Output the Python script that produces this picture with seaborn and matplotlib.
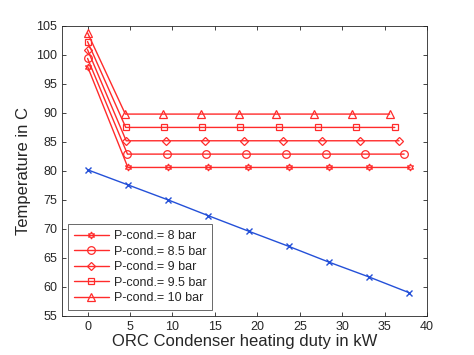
# ORC condenser: condensing temperature vs heating duty for several condenser pressures
import numpy as np
import pandas as pd
import seaborn as sns
import matplotlib
matplotlib.use('Agg')
import matplotlib.pyplot as plt

# Values
labels = ['P-cond.= 8 bar', 'P-cond.= 8.5 bar', 'P-cond.= 9 bar', 'P-cond.= 9.5 bar', 'P-cond.= 10 bar']
duty_8 = [0, 4.75, 9.5, 14.2, 18.9, 23.7, 28.5, 33.2, 38.0]
duty_85 = [0, 4.7, 9.4, 14.0, 18.7, 23.4, 28.1, 32.7, 37.3]
duty_9 = [0, 4.55, 9.2, 13.8, 18.4, 23.0, 27.6, 32.1, 36.7]
duty_95 = [0, 4.5, 9.0, 13.5, 18.0, 22.6, 27.1, 31.6, 36.2]
duty_10 = [0, 4.45, 8.9, 13.4, 17.8, 22.2, 26.7, 31.1, 35.6]
temp_8 = [98.0, 80.6, 80.6, 80.6, 80.6, 80.6, 80.6, 80.6, 80.6]
temp_85 = [99.4, 82.9, 82.9, 82.9, 82.9, 82.9, 82.9, 82.9, 82.9]
temp_9 = [100.9, 85.2, 85.2, 85.2, 85.2, 85.2, 85.2, 85.2, 85.2]
temp_95 = [102.3, 87.5, 87.5, 87.5, 87.5, 87.5, 87.5, 87.5, 87.5]
temp_10 = [103.8, 89.8, 89.8, 89.8, 89.8, 89.8, 89.8, 89.8, 89.8]
blue_duty = [0, 4.75, 9.5, 14.2, 19.0, 23.7, 28.4, 33.2, 37.9]
blue_temp = [80.2, 77.6, 75.0, 72.3, 69.6, 67.0, 64.3, 61.7, 59.0]

red_x = [duty_8, duty_85, duty_9, duty_95, duty_10]
red_y = [temp_8, temp_85, temp_9, temp_95, temp_10]
markers = [(6, 1, 0), 'o', 'D', 's', '^']
msizes = [5, 5.5, 4.5, 4, 5.5]

sns.set_theme(style='ticks')
plt.rcParams['font.family'] = ['Liberation Sans', 'DejaVu Sans']

fig = plt.figure(figsize=(4.74, 3.55), dpi=100)
ax = fig.add_axes([0.131, 0.110, 0.770, 0.817])

red = '#ff2b2b'
for xs, ys, lab, mk, ms in zip(red_x, red_y, labels, markers, msizes):
    df = pd.DataFrame({'duty': xs, 'temp': ys})
    sns.lineplot(data=df, x='duty', y='temp', ax=ax, color=red, lw=1.0,
                 marker=mk, markersize=ms, markerfacecolor='none',
                 markeredgecolor=red, markeredgewidth=0.9, sort=False, label=lab)

blue_df = pd.DataFrame({'duty': blue_duty, 'temp': blue_temp})
sns.lineplot(data=blue_df, x='duty', y='temp', ax=ax, color='#2450d8', lw=1.0,
             marker='x', markersize=4.5, markeredgecolor='#2450d8', markeredgewidth=1.0,
             sort=False, label='_nolegend_')

ax.set_xlim(-3, 40)
ax.set_ylim(55, 105)
ax.set_xticks(np.arange(0, 41, 5))
ax.set_yticks(np.arange(55, 106, 5))
ax.tick_params(direction='in', top=True, right=True, labelsize=9, length=3,
               width=0.6, colors='#262626')
for s in ax.spines.values():
    s.set_color('#262626')
    s.set_linewidth(0.6)
ax.set_xlabel('ORC Condenser heating duty in kW', fontsize=12, labelpad=1, color='#262626')
ax.set_ylabel('Temperature in C', fontsize=12, labelpad=4, color='#262626')

leg = ax.legend(loc='lower left', fontsize=9, frameon=True, fancybox=False,
                edgecolor='#262626', handlelength=2.8, borderpad=0.45,
                labelspacing=0.28, borderaxespad=0.5, handletextpad=0.4)
leg.get_frame().set_linewidth(0.6)

fig.savefig('out.png', dpi=100)
